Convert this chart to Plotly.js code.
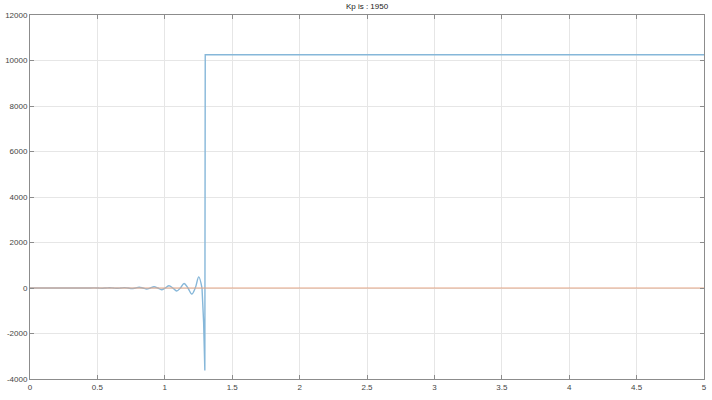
<!DOCTYPE html>
<html>
<head>
<meta charset="utf-8">
<script src="https://cdn.plot.ly/plotly-3.0.1.min.js"></script>
<style>
  html, body { margin: 0; padding: 0; background: #fff; }
  #chart { width: 712px; height: 400px; }
</style>
</head>
<body>
<div id="chart"></div>
<script>
'use strict';

// oscillating part of the response, before the jump
const oscTime = [0, 0.45, 0.48, 0.5075, 0.535, 0.5625, 0.59, 0.6175, 0.645, 0.6725, 0.70, 0.7275, 0.755, 0.7825,
	0.81, 0.838, 0.866, 0.893, 0.92, 0.948, 0.976, 1.0035, 1.031, 1.0595, 1.088, 1.1155, 1.143, 1.1715, 1.200, 1.226, 1.252, 1.276];
const oscValue = [0, 0, 6, 0, -8, 0, 10, 0, -14, 0, 18, 0, -24, 0,
	32, 0, -42, 0, 55, 0, -75, 0, 100, 0, -130, 0, 200, 0, -265, 0, 490, 0];

// dip and jump to the final level
const stepTime = [1.276, 1.288, 1.297, 1.300, 5];
const stepValue = [0, -1500, -3630, 10250, 10250];

// reference line
const refTime = [0, 5];
const refValue = [0, 0];

const yTicks = [-4000, -2000, 0, 2000, 4000, 6000, 8000, 10000, 12000];
const yTickText = ['-4000', '-2000', '0', '2000', '4000', '6000', '8000', '10000', '12000'];
const xTicks = [0, 0.5, 1, 1.5, 2, 2.5, 3, 3.5, 4, 4.5, 5];
const xTickText = ['0', '0.5', '1', '1.5', '2', '2.5', '3', '3.5', '4', '4.5', '5'];

const blue = '#86b7d9', orange = '#e4a585';

const data = [
	{ x: oscTime, y: oscValue, type: 'scatter', mode: 'lines', line: { color: blue, width: 1.4, shape: 'spline', smoothing: 1 } },
	{ x: stepTime, y: stepValue, type: 'scatter', mode: 'lines', line: { color: blue, width: 1.4 } },
	{ x: refTime, y: refValue, type: 'scatter', mode: 'lines', line: { color: orange, width: 1 } }
];

const axisCommon = {
	showgrid: true,
	gridcolor: '#e6e6e6',
	gridwidth: 1,
	zeroline: false,
	showline: true,
	linecolor: '#8c8c8c',
	linewidth: 1,
	mirror: 'ticks',
	ticks: 'inside',
	ticklen: 4,
	tickcolor: '#8c8c8c',
	tickfont: { family: 'Liberation Sans, Arial, sans-serif', size: 8, color: '#444' }
};

const layout = {
	width: 712,
	height: 400,
	margin: { l: 30, r: 8, t: 15, b: 21 },
	paper_bgcolor: '#fff',
	plot_bgcolor: '#fff',
	showlegend: false,
	title: {
		text: 'Kp is : 1950',
		font: { family: 'Liberation Sans, Arial, sans-serif', size: 8, color: '#222' },
		x: 0.5, xref: 'paper', y: 0.985, yanchor: 'middle'
	},
	xaxis: Object.assign({}, axisCommon, {
		range: [0, 5], tickvals: xTicks, ticktext: xTickText
	}),
	yaxis: Object.assign({}, axisCommon, {
		range: [-4000, 12000], tickvals: yTicks, ticktext: yTickText
	})
};

Plotly.newPlot('chart', data, layout, { staticPlot: true });
</script>
</body>
</html>
